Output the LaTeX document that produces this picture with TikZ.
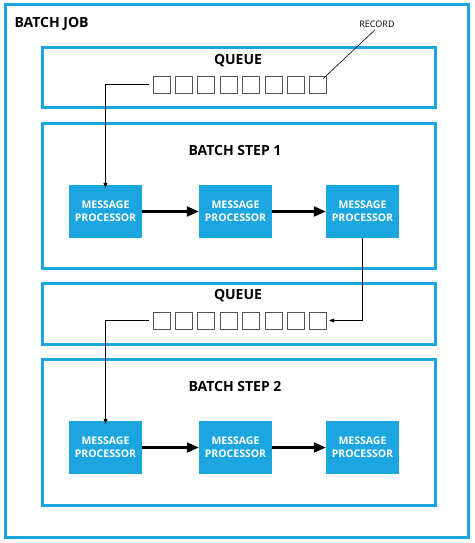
\documentclass[tikz,border=0pt]{standalone}
\usepackage{fontspec}
\setmainfont{Open Sans}
\usepackage{tikz}
\usetikzlibrary{arrows.meta,positioning,calc}
\definecolor{bl}{RGB}{27,166,224}
\definecolor{gr}{RGB}{85,85,85}

\begin{document}
\begin{tikzpicture}[x=1pt,y=-1pt,
  cadre/.style={draw=bl,line width=3pt},
  mp/.style={fill=bl,text=white,font=\fontsize{10.5}{13}\selectfont\bfseries,
             minimum width=73pt,minimum height=53pt,inner sep=0pt,align=center},
  rec/.style={draw=gr,line width=0.8pt,minimum size=17pt,inner sep=0pt},
  titre/.style={font=\fontsize{14}{16}\selectfont\bfseries},
  fin/.style={line width=0.6pt,-{Triangle[length=5pt,width=4pt]}},
  gros/.style={line width=2.2pt,-{Triangle[length=12pt,width=10pt]}}]
\useasboundingbox (0,0) rectangle (474,543);
% les cadres
\draw[cadre](5,5)rectangle(468,537);
\draw[cadre](42,48)rectangle(435,107);
\draw[cadre](42,123)rectangle(435,268);
\draw[cadre](42,283)rectangle(435,344);
\draw[cadre](42,359)rectangle(435,505);
% les titres
\node[titre,anchor=west] (job) at (11,24) {BATCH JOB};
\node[titre] (qa) at (238,61) {QUEUE};
\node[titre] (sa) at (235,150) {BATCH STEP 1};
\node[titre] (qb) at (238,296) {QUEUE};
\node[titre] (sb) at (235,386) {BATCH STEP 2};
\node[font=\fontsize{9}{10}\selectfont] (record) at (377,24) {RECORD};
% les files
\foreach \i in {1,...,8}{
  \node[rec] (qa\i) at ({161.5+22.4*(\i-1)},84.5) {};
  \node[rec] (qb\i) at ({161.5+22.4*(\i-1)},320.5) {};
}
% les processeurs
\node[mp] (mpa1) at (105.5,211.5) {MESSAGE\\PROCESSOR};
\node[mp] (mpa2) at (235.5,211.5) {MESSAGE\\PROCESSOR};
\node[mp] (mpa3) at (362.5,211.5) {MESSAGE\\PROCESSOR};
\node[mp] (mpb1) at (105.5,447.5) {MESSAGE\\PROCESSOR};
\node[mp] (mpb2) at (235.5,447.5) {MESSAGE\\PROCESSOR};
\node[mp] (mpb3) at (362.5,447.5) {MESSAGE\\PROCESSOR};
% les liaisons
\draw[line width=0.6pt] ([xshift=-4pt,yshift=-3pt]qa8.north east)--([xshift=-2pt,yshift=1pt]record.south);
\draw[fin] ([xshift=-4pt]qa1.west)-|([yshift=-3pt]mpa1.north);
\draw[gros] (mpa1)--(mpa2);
\draw[gros] (mpa2)--(mpa3);
\draw[fin] (mpa3.south)|-([xshift=2pt]qb8.east);
\draw[fin] ([xshift=-4pt]qb1.west)-|([yshift=-3pt]mpb1.north);
\draw[gros] (mpb1)--(mpb2);
\draw[gros] (mpb2)--(mpb3);
\end{tikzpicture}
\end{document}
